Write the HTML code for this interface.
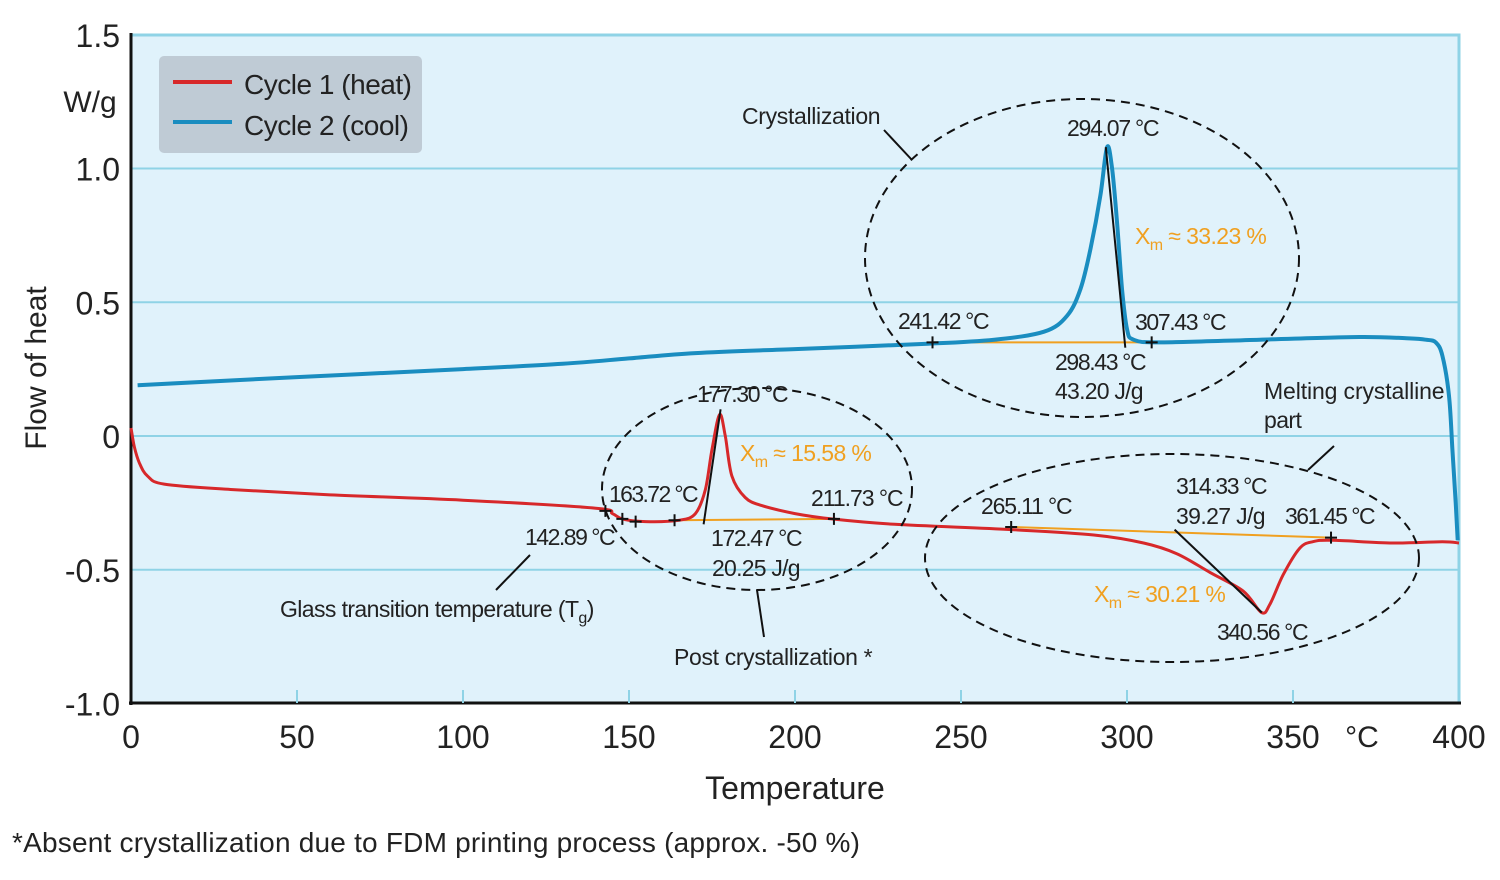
<!DOCTYPE html>
<html><head><meta charset="utf-8"><style>
body{margin:0;background:#fff;width:1500px;height:875px;overflow:hidden}
svg text{font-family:"Liberation Sans",sans-serif;fill:#222}
.ann text{letter-spacing:-0.6px}
</style></head><body>
<svg id="c" width="1500" height="875" xmlns="http://www.w3.org/2000/svg">
<rect x="131" y="35" width="1328" height="668" fill="#e0f2fb" stroke="#8fd3e6" stroke-width="3"/>
<g id="grid"></g>
<line x1="131" y1="33" x2="131" y2="705" stroke="#111" stroke-width="3"/>
<line x1="129" y1="703" x2="1461" y2="703" stroke="#111" stroke-width="3"/>
<g id="ticks"></g>
<g id="marks"></g>
<g font-size="30">
<text x="90" y="112" text-anchor="middle" font-size="30">W/g</text>
<text x="1362" y="747" text-anchor="middle" font-size="30">°C</text>
<text x="795" y="799" text-anchor="middle" font-size="32">Temperature</text>
<text transform="translate(46,368) rotate(-90)" text-anchor="middle" font-size="30">Flow of heat</text>
<text x="12" y="852" font-size="28" textLength="848">*Absent crystallization due to FDM printing process (approx. -50 %)</text>
</g>
<g>
<rect x="159" y="56" width="263" height="97" rx="5" fill="#bfcbd5"/>
<line x1="173" y1="82" x2="232" y2="82" stroke="#d7282a" stroke-width="4"/>
<text x="244" y="94" font-size="28" textLength="168">Cycle 1 (heat)</text>
<line x1="173" y1="122" x2="232" y2="122" stroke="#1a8dc0" stroke-width="4"/>
<text x="244" y="135" font-size="28" textLength="165">Cycle 2 (cool)</text>
</g>
<g fill="none" stroke="#111" stroke-width="2" stroke-dasharray="9,6">
<ellipse cx="1082" cy="258" rx="217" ry="159"/>
<ellipse cx="757" cy="489" rx="155" ry="101"/>
<ellipse cx="1172" cy="558" rx="247" ry="104"/>
</g>
<g stroke="#111" stroke-width="2">
<line x1="884" y1="130" x2="912" y2="160"/>
<line x1="530" y1="555" x2="496" y2="590"/>
<line x1="757" y1="590" x2="764" y2="637"/>
<line x1="1334" y1="446" x2="1308" y2="470"/>
</g>
<g class="ann" font-size="23">
<text x="742" y="124" textLength="138">Crystallization</text>
<text x="1067" y="136" textLength="92">294.07 °C</text>
<text x="898" y="329" textLength="91">241.42 °C</text>
<text x="1135" y="330" textLength="91">307.43 °C</text>
<text x="1055" y="370" textLength="91">298.43 °C</text>
<text x="1055" y="399" textLength="88">43.20 J/g</text>
<text x="1264" y="399" textLength="180">Melting crystalline</text>
<text x="1264" y="428">part</text>
<text x="697" y="402" textLength="91">177.30 °C</text>
<text x="609" y="502" textLength="89">163.72 °C</text>
<text x="811" y="506" textLength="92">211.73 °C</text>
<text x="525" y="545" textLength="90">142.89 °C</text>
<text x="711" y="546" textLength="91">172.47 °C</text>
<text x="712" y="576" textLength="88">20.25 J/g</text>
<text x="280" y="617">Glass transition temperature  (T<tspan font-size="16" dy="6">g</tspan><tspan dy="-6">)</tspan></text>
<text x="674" y="665" textLength="198">Post crystallization *</text>
<text x="981" y="514" textLength="91">265.11 °C</text>
<text x="1176" y="494" textLength="91">314.33 °C</text>
<text x="1176" y="524" textLength="89">39.27 J/g</text>
<text x="1285" y="524" textLength="90">361.45 °C</text>
<text x="1217" y="640" textLength="91">340.56 °C</text>
<text x="1135" y="244" style="fill:#f0a020">X<tspan font-size="16" dy="6" style="fill:#f0a020">m</tspan><tspan dy="-6" style="fill:#f0a020"> ≈ 33.23 %</tspan></text>
<text x="740" y="461" style="fill:#f0a020">X<tspan font-size="16" dy="6" style="fill:#f0a020">m</tspan><tspan dy="-6" style="fill:#f0a020"> ≈ 15.58 %</tspan></text>
<text x="1094" y="602" style="fill:#f0a020">X<tspan font-size="16" dy="6" style="fill:#f0a020">m</tspan><tspan dy="-6" style="fill:#f0a020"> ≈ 30.21 %</tspan></text>
</g>
</svg>
<script>
const xTicks=[0,50,100,150,200,250,300,350,400];
const yTicks=[1.5,1.0,0.5,0,-0.5,-1.0];
const yTickLabels=["1.5","1.0","0.5","0","-0.5","-1.0"];
const heatT=[0,1,2.5,5,10,30,60,100,140,145,148,155,165,170,173,175,177.3,179,181,185,190,200,211,230,265,290,305,315,325,335,340.5,343,347,352,356,362,380,395,400];
const heatY=[0.03,-0.04,-0.1,-0.15,-0.18,-0.2,-0.22,-0.24,-0.27,-0.29,-0.31,-0.32,-0.315,-0.29,-0.2,-0.05,0.08,0.0,-0.15,-0.23,-0.26,-0.29,-0.31,-0.33,-0.35,-0.37,-0.4,-0.44,-0.51,-0.58,-0.66,-0.63,-0.52,-0.42,-0.395,-0.39,-0.4,-0.395,-0.4];
const coolT=[2,50,100,130,150,170,200,240,260,275,282,286,289,292,294,295.5,297,298.5,300,302,310,340,370,385,390,393,395,397,398,399,399.6];
const coolY=[0.19,0.22,0.25,0.27,0.29,0.31,0.325,0.345,0.36,0.39,0.45,0.55,0.7,0.9,1.08,1.0,0.8,0.55,0.4,0.36,0.35,0.36,0.37,0.365,0.36,0.35,0.3,0.15,-0.05,-0.25,-0.39];
const baseT=[[241.42,307.43],[163.72,211.73],[265.11,361.45]];
const baseY=[[0.35,0.35],[-0.315,-0.31],[-0.34,-0.38]];
const tangT=[[293.6,299.5],[172.47,177.6],[314.33,340.56]];
const tangY=[[1.08,0.33],[-0.33,0.1],[-0.35,-0.66]];
const crossT=[241.42,307.43,142.89,148,152,163.72,211.73,265.11,361.45];
const crossY=[0.35,0.35,-0.28,-0.31,-0.32,-0.315,-0.31,-0.34,-0.38];
const sx=t=>131+t*3.32;
const sy=v=>436-v*267.5;
const NS='http://www.w3.org/2000/svg';
function mk(p,tag,a){const e=document.createElementNS(NS,tag);for(const k in a)e.setAttribute(k,a[k]);p.appendChild(e);return e;}
const grid=document.getElementById('grid'),ticks=document.getElementById('ticks'),marks=document.getElementById('marks');
yTicks.forEach((v,i)=>{
 if(v<1.5&&v>-1){const g=mk(grid,'line',{x1:131,x2:1459,y1:sy(v),y2:sy(v),stroke:'#8fd3e6','stroke-width':2});
 
 }
 const t=mk(ticks,'text',{x:120,y:sy(v)+12,'text-anchor':'end','font-size':32});t.textContent=yTickLabels[i];
 
 
});
xTicks.forEach(v=>{
 if(v>0&&v<400){const l=mk(ticks,'line',{x1:sx(v),x2:sx(v),y1:690,y2:703,stroke:'#8fd3e6','stroke-width':2});
 
 }
 const t=mk(ticks,'text',{x:sx(v),y:748,'text-anchor':'middle','font-size':32});t.textContent=String(v);
 
 
});
function path(T,Y){return T.map((t,i)=>(i?'L':'M')+sx(t).toFixed(1)+','+sy(Y[i]).toFixed(1)).join('');}
function smooth(T,Y){const P=T.map((t,i)=>[sx(t),sy(Y[i])]);let d='M'+P[0][0].toFixed(1)+','+P[0][1].toFixed(1);
 for(let i=0;i<P.length-1;i++){const p0=P[Math.max(0,i-1)],p1=P[i],p2=P[i+1],p3=P[Math.min(P.length-1,i+2)];
 const c1=[p1[0]+(p2[0]-p0[0])/6,p1[1]+(p2[1]-p0[1])/6],c2=[p2[0]-(p3[0]-p1[0])/6,p2[1]-(p3[1]-p1[1])/6];
 d+=`C${c1[0].toFixed(1)},${c1[1].toFixed(1)} ${c2[0].toFixed(1)},${c2[1].toFixed(1)} ${p2[0].toFixed(1)},${p2[1].toFixed(1)}`;}return d;}
baseT.forEach((T,i)=>{const l=mk(marks,'path',{d:path(T,baseY[i]),stroke:'#f0a020','stroke-width':2,fill:'none'});
 
 });
const cool=mk(marks,'path',{d:smooth(coolT,coolY),stroke:'#1a8dc0','stroke-width':4,fill:'none','stroke-linejoin':'round'});


const heat=mk(marks,'path',{d:smooth(heatT,heatY),stroke:'#d7282a','stroke-width':3,fill:'none','stroke-linejoin':'round'});


tangT.forEach((T,i)=>{const l=mk(marks,'path',{d:path(T,tangY[i]),stroke:'#111','stroke-width':2,fill:'none'});
 
 });
crossT.forEach((t,i)=>{const x=sx(t),y=sy(crossY[i]);const c=mk(marks,'path',{d:`M${x-6},${y}H${x+6}M${x},${y-6}V${y+6}`,stroke:'#111','stroke-width':2});
 
 });
</script>
</body></html>
